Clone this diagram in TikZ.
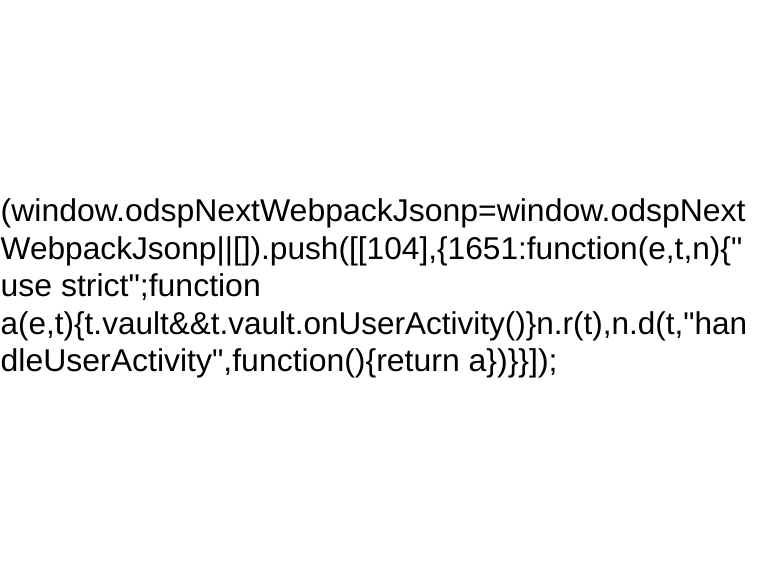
\documentclass[tikz,border=0pt]{standalone}
\usepackage{fontspec}
\newfontfamily\codefont{Liberation Sans}
\begin{document}
\begin{tikzpicture}[x=1bp,y=-1bp,
  codeline/.style={anchor=base west,inner sep=0pt,font=\codefont\fontsize{31.5bp}{37.4bp}\selectfont}]
\useasboundingbox (0,0) rectangle (768,576);
\node[codeline,xscale=1.015] (l1) at (0.5,222) {(window.odspNextWebpackJsonp=window.odspNext};
\node[codeline,xscale=1.005] (l2) at (0.5,259.4) {WebpackJsonp||[]).push([[104],\{1651:function(e,t,n)\{"};
\node[codeline,xscale=1.015] (l3) at (0.5,296.8) {use strict";function};
\node[codeline] (l4) at (0.5,334.2) {a(e,t)\{t.vault\&\&t.vault.onUserActivity()\}n.r(t),n.d(t,"han};
\node[codeline,xscale=1.015] (l5) at (0.5,371.6) {dleUserActivity",function()\{return a\})\}\}]);};
\end{tikzpicture}
\end{document}
